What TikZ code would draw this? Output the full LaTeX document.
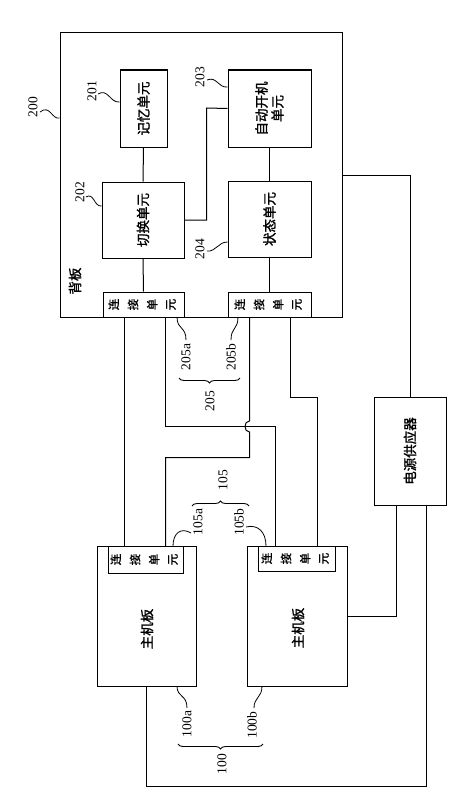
\documentclass[tikz,border=0pt]{standalone}
\usepackage{fontspec}
\setmainfont{Liberation Serif}
\newfontfamily\cjk[FakeBold=1.5]{Noto Sans CJK SC}
\usetikzlibrary{decorations.pathreplacing}
\newcommand\lianjie{\cjk\fontsize{11.5}{12}\selectfont\begin{tabular}{@{}c@{}}连\\[6pt]接\\[6pt]单\\[6pt]元\end{tabular}}
\begin{document}
\begin{tikzpicture}[x=1pt,y=-1pt,
  box/.style={draw,line width=1pt,inner sep=0pt,rectangle},
  wire/.style={line width=1pt},
  lead/.style={line width=0.8pt},
  num/.style={rotate=90,inner sep=0pt,font=\fontsize{13.5}{15}\selectfont},
  cn/.style={rotate=90,inner sep=0pt,align=center,font=\cjk\fontsize{13.5}{16}\selectfont},
  cnsmall/.style={rotate=90,inner sep=0pt},
  brc/.style={decorate,decoration={brace,amplitude=5pt},line width=0.9pt}]
\useasboundingbox (0,0) rectangle (474,800);
% boxes
\node[box,minimum width=282pt,minimum height=284pt] (bp) at (201,175) {};
\node[box,minimum width=47pt,minimum height=77pt] (m201) at (143.5,108.5) {};
\node[box,minimum width=83pt,minimum height=77pt] (m203) at (269.5,108.5) {};
\node[box,minimum width=82pt,minimum height=76pt] (m202) at (143,220) {};
\node[box,minimum width=83pt,minimum height=76pt] (m204) at (269.5,219) {};
\node[box,minimum width=81pt,minimum height=25pt] (c1) at (143.5,304.5) {};
\node[box,minimum width=83pt,minimum height=25pt] (c2) at (269.5,304.5) {};
\node[box,minimum width=72pt,minimum height=108pt] (ps) at (410,451) {};
\node[box,minimum width=99pt,minimum height=140pt] (mbA) at (146.5,616) {};
\node[box,minimum width=100pt,minimum height=140pt] (mbB) at (297,616) {};
\node[box,minimum width=75pt,minimum height=27pt] (cA) at (145.5,559.5) {};
\node[box,minimum width=77pt,minimum height=25pt] (cB) at (296.5,558.5) {};
% pin coordinates
\coordinate (c1a) at (124.5,317); \coordinate (c1b) at (165.5,317);
\coordinate (c2a) at (249.5,317); \coordinate (c2b) at (290.5,317);
\coordinate (cAa) at (124.5,546); \coordinate (cAb) at (165.5,546);
\coordinate (cBa) at (275.5,546); \coordinate (cBb) at (317.5,546);
\coordinate (psa) at (396.5,505); \coordinate (psb) at (426.5,505);
\coordinate (j2) at (206.5,108);
% wires
\draw[wire] (m201.south) -- (m202.north);
\draw[wire] (m202.east) -| (j2) -- (m203.west);
\draw[wire] (m203.south) -- (m204.north);
\draw[wire] (m204.south) -- (c2.north);
\draw[wire] (m202.south) -- (c1.north);
\draw[wire] (bp.east) -| (ps.north);
\draw[wire] (c1a) -- (cAa);
\draw[wire] (c1b) -- (165.5,426.5) -| (cBa);
\draw[wire] (c2a) -- (249.5,421) .. controls (243.5,421) and (243.5,432) .. (249.5,432) -- (249.5,457.5) -| (cAb);
\draw[wire] (c2b) -- (290.5,397.5) -| (cBb);
\draw[wire] (psa) |- (mbB.east);
\draw[wire] (psb) -- (426.5,786.5) -| (mbA.south);
% leaders and braces
\draw[lead] (40,112) .. controls (50,104) and (52,120) .. (bp.west |- 0,118);
\draw[lead] (98,94) .. controls (108,88) and (110,103) .. (m201.west |- 0,102);
\draw[lead] (86,197) .. controls (94,192) and (94,207) .. (m202.west |- 0,206);
\draw[lead] (207,80) .. controls (217,76) and (218,88) .. (m203.west |- 0,87);
\draw[lead] (207,251) .. controls (216,252) and (218,242) .. (m204.west |- 0,242);
\draw[lead] (177,317) .. controls (177,330) and (186,326) .. (186,340);
\draw[lead] (238,317) .. controls (238,330) and (231,327) .. (231,340);
\draw[brc] (240,378) -- (179,378);
\draw[brc] (192,506) -- (249,506);
\draw[lead] (191,533) .. controls (181,527) and (173,533) .. (173,546);
\draw[lead] (246,527) .. controls (258,524) and (266,532) .. (266,546);
\draw[lead] (177,686) .. controls (177,698) and (187,694) .. (187,708);
\draw[lead] (262,686) .. controls (262,698) and (254,697) .. (254,708);
\draw[brc] (263,744) -- (178,744);
% numbers
\node[num] (l200) at (33,107) {200};
\node[num] (l201) at (92,91) {201};
\node[num] (l202) at (80,192) {202};
\node[num] (l203) at (200,77) {203};
\node[num] (l204) at (200,249) {204};
\node[num] (l205a) at (186,357) {205a};
\node[num] (l205b) at (231,357) {205b};
\node[num] (l205) at (210,401) {205};
\node[num] (l105) at (223,480) {105};
\node[num] (l105a) at (198,522) {105a};
\node[num] (l105b) at (239,522) {105b};
\node[num] (l100a) at (187,724) {100a};
\node[num] (l100b) at (252,725) {100b};
\node[num] (l100) at (222,764) {100};
% Chinese texts (drawn last)
\node[cn] (t201) at (m201.center) {记忆单元};
\node[cn] (t203) at (m203.center) {自动开机\\单元};
\node[cn] (t202) at (m202.center) {切换单元};
\node[cn] (t204) at (m204.center) {状态单元};
\node[cn] (bei) at (75,281) {背板};
\node[cn] (tps) at (ps.center) {电源供应器};
\node[cn] (tA) at (147,629) {主机板};
\node[cn] (tB) at (298,628) {主机板};
\node[cnsmall] (tc1) at (c1.center) {\lianjie};
\node[cnsmall] (tc2) at (c2.center) {\lianjie};
\node[cnsmall] (tcA) at (cA.center) {\lianjie};
\node[cnsmall] (tcB) at (cB.center) {\lianjie};
\end{tikzpicture}
\end{document}
